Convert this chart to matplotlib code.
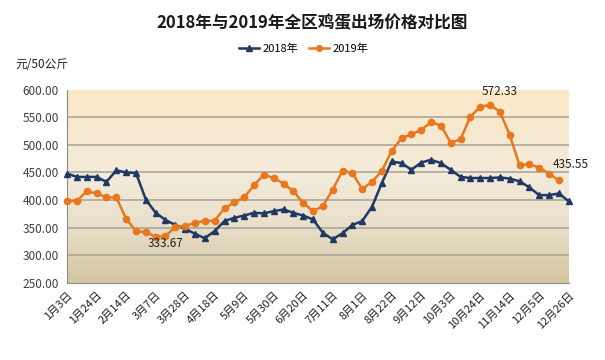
import matplotlib

matplotlib.use("Agg")
import matplotlib.pyplot as plt
import numpy as np
from matplotlib.colors import LinearSegmentedColormap

plt.rcParams["font.family"] = ["Noto Sans CJK SC", "DejaVu Sans"]

# weekly dates, a label every third week
tick_labels = ["1月3日", "1月24日", "2月14日", "3月7日", "3月28日", "4月18日",
               "5月9日", "5月30日", "6月20日", "7月11日", "8月1日", "8月22日",
               "9月12日", "10月3日", "10月24日", "11月14日", "12月5日", "12月26日"]

price_2018 = [448, 442, 442, 442, 433, 454, 450, 449, 401, 377, 364, 355, 348,
              339, 331, 344, 362, 368, 372, 377, 376, 380, 383, 377, 372, 365,
              341, 329, 340, 355, 362, 388, 431, 470, 467, 455, 468, 473, 467,
              455, 442, 440, 440, 440, 441, 439, 434, 423, 409, 409, 412, 398]

price_2019 = [398, 399, 416, 412, 405, 405, 366, 344, 342, 333.67, 335, 351, 353,
              359, 362, 363, 385, 396, 405, 427, 446, 440, 430, 416, 395, 380,
              389, 419, 453, 449, 420, 433, 453, 489, 512, 519, 527, 541, 535,
              504, 510, 551, 569, 572.33, 560, 518, 463, 465, 459, 448, 435.55]

NAVY = "#1F3864"
ORANGE = "#E8771E"

fig = plt.figure(figsize=(6.05, 3.6), dpi=100)
ax = fig.add_axes([0.111, 0.214, 0.829, 0.537])

x18 = np.arange(len(price_2018))
x19 = np.arange(len(price_2019))

# background gradient (tan at the bottom, peach at the top)
cmap = LinearSegmentedColormap.from_list(
    "bg", [(0.0, "#D4C59F"), (0.3, "#E9E0CB"), (0.55, "#F3EBDA"), (1.0, "#FCE8C6")])
grad = np.linspace(0, 1, 256).reshape(-1, 1)
ax.imshow(grad, extent=[0, len(price_2018) - 1, 250, 600], origin="lower",
          aspect="auto", cmap=cmap, zorder=0)

for yv in range(300, 600, 50):
    ax.axhline(yv, color="#ABA69C", lw=1.2, zorder=1)

ax.plot(x18, price_2018, color=NAVY, lw=1.8, marker="^", ms=4.5,
        label="2018年", zorder=3, clip_on=False)
ax.plot(x19, price_2019, color=ORANGE, lw=1.8, marker="o", ms=4.5,
        label="2019年", zorder=3, clip_on=False)

ax.set_xlim(0, len(price_2018) - 1)
ax.set_ylim(250, 600)
ax.set_yticks(np.arange(250, 601, 50))
ax.set_yticklabels([f"{v:.2f}" for v in np.arange(250, 601, 50)], fontsize=8.5,
                   color="#404040")
ax.set_xticks(np.arange(0, len(price_2018), 3))
ax.set_xticklabels(tick_labels, rotation=45, ha="right", rotation_mode="anchor",
                   fontsize=8, color="#202020")
ax.tick_params(length=0, pad=6)
ax.tick_params(axis="x", pad=5)

for s in ("top", "right"):
    ax.spines[s].set_visible(False)
ax.spines["left"].set_color("#8C8C8C")
ax.spines["bottom"].set_color("#8C8C8C")

# value labels
i_min = int(np.argmin(price_2019))
i_max = int(np.argmax(price_2019))
i_last = len(price_2019) - 1
ax.annotate(f"{price_2019[i_min]:.2f}", (i_min, price_2019[i_min]), xytext=(10, -7),
            textcoords="offset pixels", ha="center", va="center", fontsize=8.5,
            color="#202020")
ax.annotate(f"{price_2019[i_max]:.2f}", (i_max, price_2019[i_max]), xytext=(10, 13),
            textcoords="offset pixels", ha="center", va="center", fontsize=8.5,
            color="#202020")
ax.annotate(f"{price_2019[i_last]:.2f}", (i_last, price_2019[i_last]), xytext=(12, 16),
            textcoords="offset pixels", ha="center", va="center", fontsize=8.5,
            color="#202020")

fig.text(312 / 605, 1 - 23 / 360, "2018年与2019年全区鸡蛋出场价格对比图",
         ha="center", va="center", fontsize=12, fontweight="bold", color="#1A1A1A")
fig.text(15 / 605, 1 - 65 / 360, "元/50公斤", ha="left", va="center", fontsize=8.5,
         color="#202020")

fig.legend(loc="center", bbox_to_anchor=(304 / 605, 1 - 49 / 360), ncol=2,
           frameon=False, fontsize=8, handlelength=1.8, handletextpad=0.3,
           columnspacing=1.0, markerscale=0.9)

fig.savefig("out.png", dpi=100)
